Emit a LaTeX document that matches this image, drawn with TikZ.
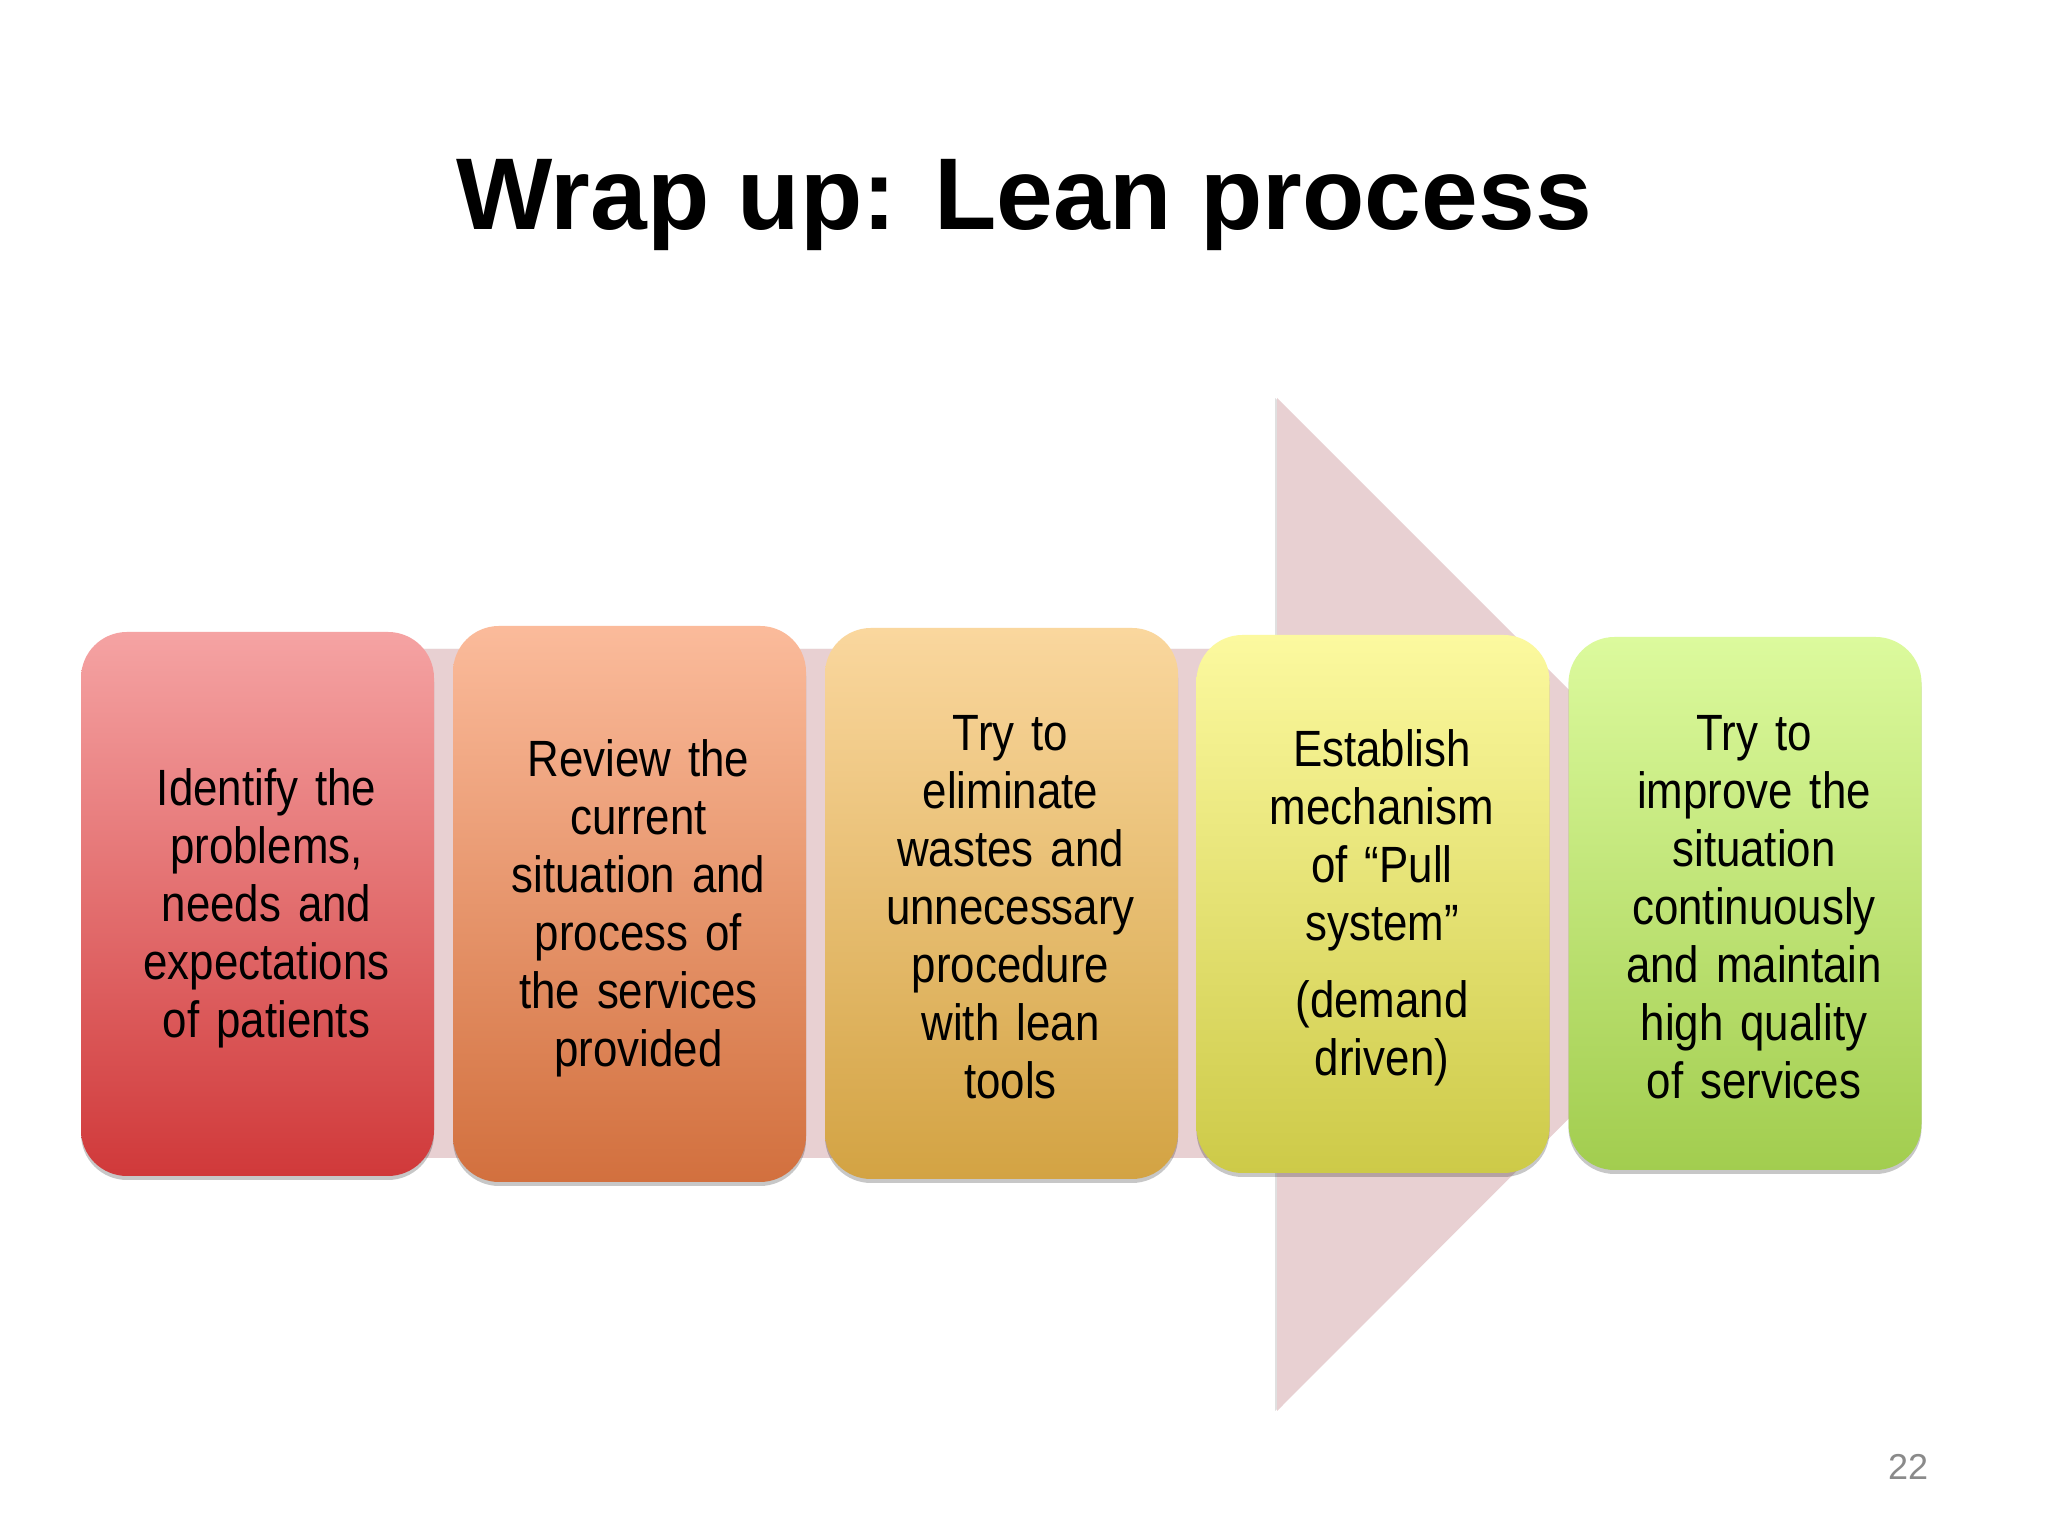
\documentclass[tikz,border=0pt]{standalone}
\usepackage{fontspec}
\setmainfont{Liberation Sans}
\newfontfamily\narrowfont[FakeStretch=0.86]{Liberation Sans}
\usetikzlibrary{shadows}
\definecolor{arrowcol}{HTML}{E8D0D2}
\definecolor{aTop}{HTML}{F5A3A3}\definecolor{aBot}{HTML}{D0393A}
\definecolor{bTop}{HTML}{FBBB9B}\definecolor{bBot}{HTML}{D2703E}
\definecolor{cTop}{HTML}{FAD79E}\definecolor{cBot}{HTML}{D3A343}
\definecolor{dTop}{HTML}{FCF99F}\definecolor{dBot}{HTML}{CDCA48}
\definecolor{eTop}{HTML}{DCFA9D}\definecolor{eBot}{HTML}{A2CD4F}
\definecolor{pagegray}{HTML}{8A8A8A}
\tikzset{
  stepbox/.style={rounded corners=46pt, inner sep=0pt, minimum width=353pt,
    drop shadow={shadow xshift=0pt, shadow yshift=-4pt, opacity=0.22, fill=black}},
  steptext/.style={inner sep=0pt, text width=340pt, align=center,
    font=\narrowfont\fontsize{51}{58}\selectfont},
  titletext/.style={font=\bfseries\fontsize{102}{120}\selectfont, anchor=base},
  pagenum/.style={font=\fontsize{36}{40}\selectfont, text=pagegray, anchor=base}
}
\begin{document}
\begin{tikzpicture}[x=1pt,y=1pt]
\useasboundingbox[fill=white] (0,0) rectangle (2048,1536);
% title
\node[titletext] (title) at (1024,1306) {Wrap up: Lean process};
% big arrow
\fill[arrowcol, drop shadow={shadow xshift=-2pt, shadow yshift=0pt, opacity=0.12, fill=black}]
  (100,378) -- (1277,378) -- (1277,125) -- (1783,632) -- (1277,1138) -- (1277,887) -- (100,887) -- cycle;
% boxes
\node[stepbox, minimum height=544pt, top color=aTop, bottom color=aBot] (s1) at (257.5,632) {};
\node[stepbox, minimum height=556pt, top color=bTop, bottom color=bBot] (s2) at (629.5,632) {};
\node[stepbox, minimum height=551pt, top color=cTop, bottom color=cBot] (s3) at (1001.5,632.5) {};
\node[stepbox, minimum height=538pt, top color=dTop, bottom color=dBot] (s4) at (1373,632) {};
\node[stepbox, minimum height=533pt, top color=eTop, bottom color=eBot] (s5) at (1745,632.5) {};
% texts
\node[steptext] (t1) at ([shift={(9,-4)}]s1.center)
  {Identify the\\problems,\\needs and\\expectations\\of patients};
\node[steptext] (t2) at ([shift={(9,-4)}]s2.center)
  {Review the\\current\\situation and\\process of\\the services\\provided};
\node[steptext] (t3) at ([shift={(9,-4)}]s3.center)
  {Try to\\eliminate\\wastes and\\unnecessary\\procedure\\with lean\\tools};
\node[steptext] (t4) at ([shift={(9,-4)}]s4.center)
  {Establish\\mechanism\\of “Pull\\system”\\[19pt](demand\\driven)};
\node[steptext] (t5) at ([shift={(9,-4)}]s5.center)
  {Try to\\improve the\\situation\\continuously\\and maintain\\high quality\\of services};
% page number
\node[pagenum] (pg) at (1908,56) {22};
\end{tikzpicture}
\end{document}
